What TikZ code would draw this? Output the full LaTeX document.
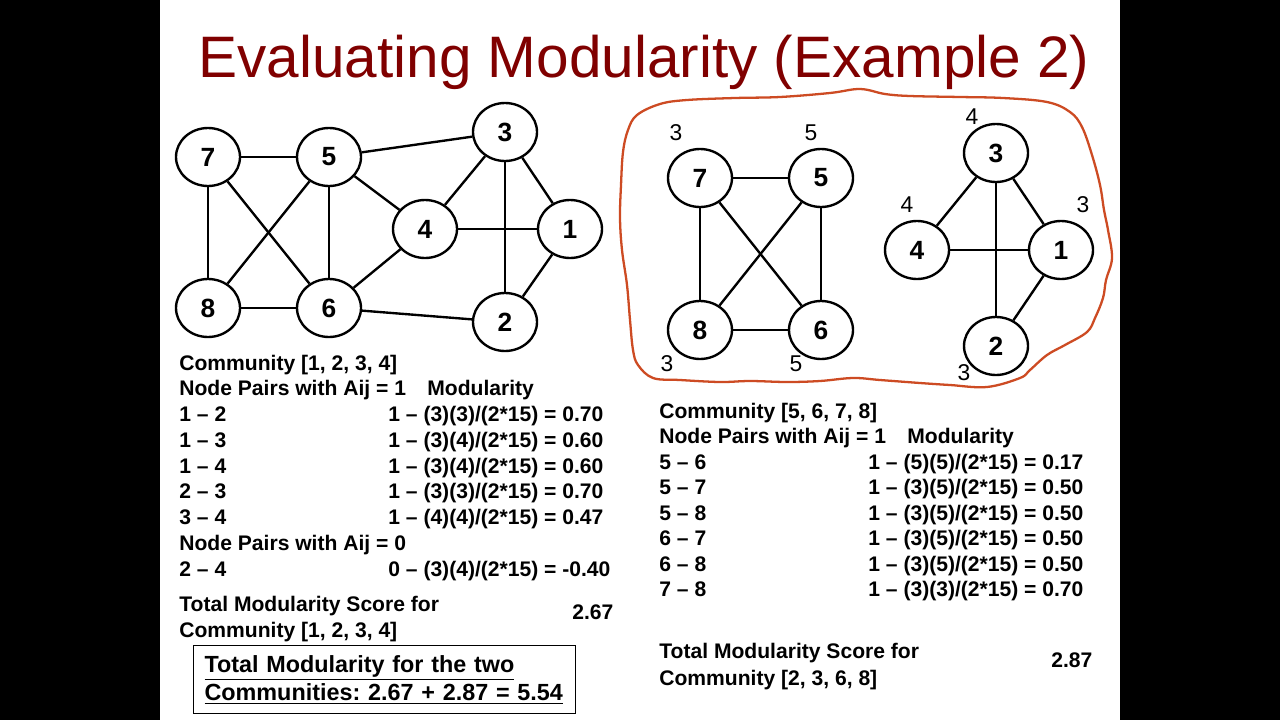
\documentclass[tikz,border=0pt]{standalone}
\usepackage{fontspec}
\setmainfont{Liberation Sans}
\usepackage{xcolor}
\usepackage{tikz}
\usetikzlibrary{shapes.geometric,positioning}
\frenchspacing

\definecolor{titlered}{RGB}{128,0,0}
\definecolor{penred}{RGB}{205,75,35}

\begin{document}
\begin{tikzpicture}[x=0.02cm, y=-0.02cm,
    gnode/.style={draw, ellipse, line width=1.35pt, minimum width=1.28cm, minimum height=1.16cm, inner sep=0pt, fill=white, font=\fontsize{15}{18}\selectfont\bfseries},
    link/.style={line width=1.35pt},
    deg/.style={inner sep=0pt, font=\fontsize{13}{15}\selectfont},
    rowtext/.style={anchor=base west, inner sep=0pt, font=\fontsize{12}{14}\selectfont\bfseries}]
    \useasboundingbox (0,0) rectangle (1280,720);
    \fill[black] (0,0) rectangle (160,720);
    \fill[black] (1120,0) rectangle (1280,720);
    \fill[white] (160,0) rectangle (1120,720);

    \node (title) [anchor=base, inner sep=0pt, text=titlered, font=\fontsize{33.3}{40}\selectfont] at (644,77) {Evaluating Modularity (Example 2)};

    % whole network
    \node (l7) [gnode] at (208,157) {7};
    \node (l5) [gnode] at (329,157) {5};
    \node (l3) [gnode] at (505,132) {3};
    \node (l4) [gnode] at (425,229) {4};
    \node (l1) [gnode] at (570,229) {1};
    \node (l8) [gnode] at (208,308) {8};
    \node (l6) [gnode] at (329,308) {6};
    \node (l2) [gnode] at (505,322) {2};
    \draw[link] (l7) -- (l5);
    \draw[link] (l7) -- (l8);
    \draw[link] (l7) -- (l6);
    \draw[link] (l5) -- (l8);
    \draw[link] (l5) -- (l6);
    \draw[link] (l5) -- (l3);
    \draw[link] (l5) -- (l4);
    \draw[link] (l8) -- (l6);
    \draw[link] (l6) -- (l4);
    \draw[link] (l6) -- (l2);
    \draw[link] (l3) -- (l4);
    \draw[link] (l3) -- (l1);
    \draw[link] (l3) -- (l2);
    \draw[link] (l4) -- (l1);
    \draw[link] (l1) -- (l2);

    % split into two communities
    \draw[penred, line width=1.3pt] plot[smooth cycle, tension=0.6] coordinates {
      (637,115) (660,104) (687,100) (735,98) (780,97) (830,93) (860,89) (885,94)
      (910,96) (960,97) (1003,98) (1047,102) (1070,112) (1082,127) (1092,155)
      (1100,185) (1104,210) (1108,230) (1112,258) (1106,280) (1103,298) (1095,318)
      (1087,332) (1065,345) (1047,355) (1030,370) (1020,378) (987,387) (950,385)
      (920,383) (880,380) (853,378) (820,381) (787,382) (750,381) (720,382)
      (680,380) (653,378) (638,365) (633,350) (630,320) (627,285) (622,250)
      (620,218) (621,185) (623,152) (628,130)};

    \node (r7) [gnode] at (700,178) {7};
    \node (r5) [gnode] at (821,178) {5};
    \node (r8) [gnode] at (700,330) {8};
    \node (r6) [gnode] at (821,330) {6};
    \node (r3) [gnode] at (996,153) {3};
    \node (r4) [gnode] at (917,250) {4};
    \node (r1) [gnode] at (1061,250) {1};
    \node (r2) [gnode] at (996,346) {2};
    \draw[link] (r7) -- (r5);
    \draw[link] (r7) -- (r8);
    \draw[link] (r7) -- (r6);
    \draw[link] (r5) -- (r8);
    \draw[link] (r5) -- (r6);
    \draw[link] (r8) -- (r6);
    \draw[link] (r3) -- (r4);
    \draw[link] (r3) -- (r1);
    \draw[link] (r3) -- (r2);
    \draw[link] (r4) -- (r1);
    \draw[link] (r1) -- (r2);

    % degrees
    \node (dg7) [deg] at (676,133) {3};
    \node (dg5) [deg] at (811,133) {5};
    \node (dg8) [deg] at (667,364) {3};
    \node (dg6) [deg] at (796,364) {5};
    \node (dg3) [deg] at (972,117) {4};
    \node (dg4) [deg] at (907,205) {4};
    \node (dg1) [deg] at (1083,205) {3};
    \node (dg2) [deg] at (964,373) {3};

    % community [1, 2, 3, 4]
    \node (ca) [rowtext] at (179,370) {Community [1, 2, 3, 4]};
    \node (capairs) [rowtext] at (179,395) {Node Pairs with Aij = 1};
    \node (camod) [rowtext] at (427,395) {Modularity};
    \node (ca12) [rowtext] at (179,421) {1 – 2};
    \node (cf12) [rowtext] at (388,421) {1 – (3)(3)/(2*15) = 0.70};
    \node (ca13) [rowtext] at (179,447) {1 – 3};
    \node (cf13) [rowtext] at (388,447) {1 – (3)(4)/(2*15) = 0.60};
    \node (ca14) [rowtext] at (179,473) {1 – 4};
    \node (cf14) [rowtext] at (388,473) {1 – (3)(4)/(2*15) = 0.60};
    \node (ca23) [rowtext] at (179,498) {2 – 3};
    \node (cf23) [rowtext] at (388,498) {1 – (3)(3)/(2*15) = 0.70};
    \node (ca34) [rowtext] at (179,524) {3 – 4};
    \node (cf34) [rowtext] at (388,524) {1 – (4)(4)/(2*15) = 0.47};
    \node (cazero) [rowtext] at (179,550) {Node Pairs with Aij = 0};
    \node (ca24) [rowtext] at (179,576) {2 – 4};
    \node (cf24) [rowtext] at (388,576) {0 – (3)(4)/(2*15) = -0.40};
    \node (catot) [rowtext] at (179,611) {Total Modularity Score for};
    \node (catot2) [rowtext] at (179,637) {Community [1, 2, 3, 4]};
    \node (caval) [rowtext] at (572,619) {2.67};

    % community [5, 6, 7, 8]
    \node (cb) [rowtext] at (659,418) {Community [5, 6, 7, 8]};
    \node (cbpairs) [rowtext] at (659,443) {Node Pairs with Aij = 1};
    \node (cbmod) [rowtext] at (907,443) {Modularity};
    \node (cb56) [rowtext] at (659,469) {5 – 6};
    \node (cf56) [rowtext] at (868,469) {1 – (5)(5)/(2*15) = 0.17};
    \node (cb57) [rowtext] at (659,494) {5 – 7};
    \node (cf57) [rowtext] at (868,494) {1 – (3)(5)/(2*15) = 0.50};
    \node (cb58) [rowtext] at (659,520) {5 – 8};
    \node (cf58) [rowtext] at (868,520) {1 – (3)(5)/(2*15) = 0.50};
    \node (cb67) [rowtext] at (659,545) {6 – 7};
    \node (cf67) [rowtext] at (868,545) {1 – (3)(5)/(2*15) = 0.50};
    \node (cb68) [rowtext] at (659,571) {6 – 8};
    \node (cf68) [rowtext] at (868,571) {1 – (3)(5)/(2*15) = 0.50};
    \node (cb78) [rowtext] at (659,596) {7 – 8};
    \node (cf78) [rowtext] at (868,596) {1 – (3)(3)/(2*15) = 0.70};
    \node (cbtot) [rowtext] at (659,658) {Total Modularity Score for};
    \node (cbtot2) [rowtext] at (659,685) {Community [2, 3, 6, 8]};
    \node (cbval) [rowtext] at (1051,667) {2.87};

    \node (sumbox) [draw, line width=0.6pt, fill=white, anchor=north west, minimum width=7.64cm, minimum height=1.36cm, inner xsep=0.2cm, text width=7.2cm, align=left, font=\fontsize{13.3}{16}\selectfont\bfseries] at (193,645) {\underline{Total Modularity for the two}\\\underline{Communities: 2.67 + 2.87 = 5.54}};
\end{tikzpicture}
\end{document}
